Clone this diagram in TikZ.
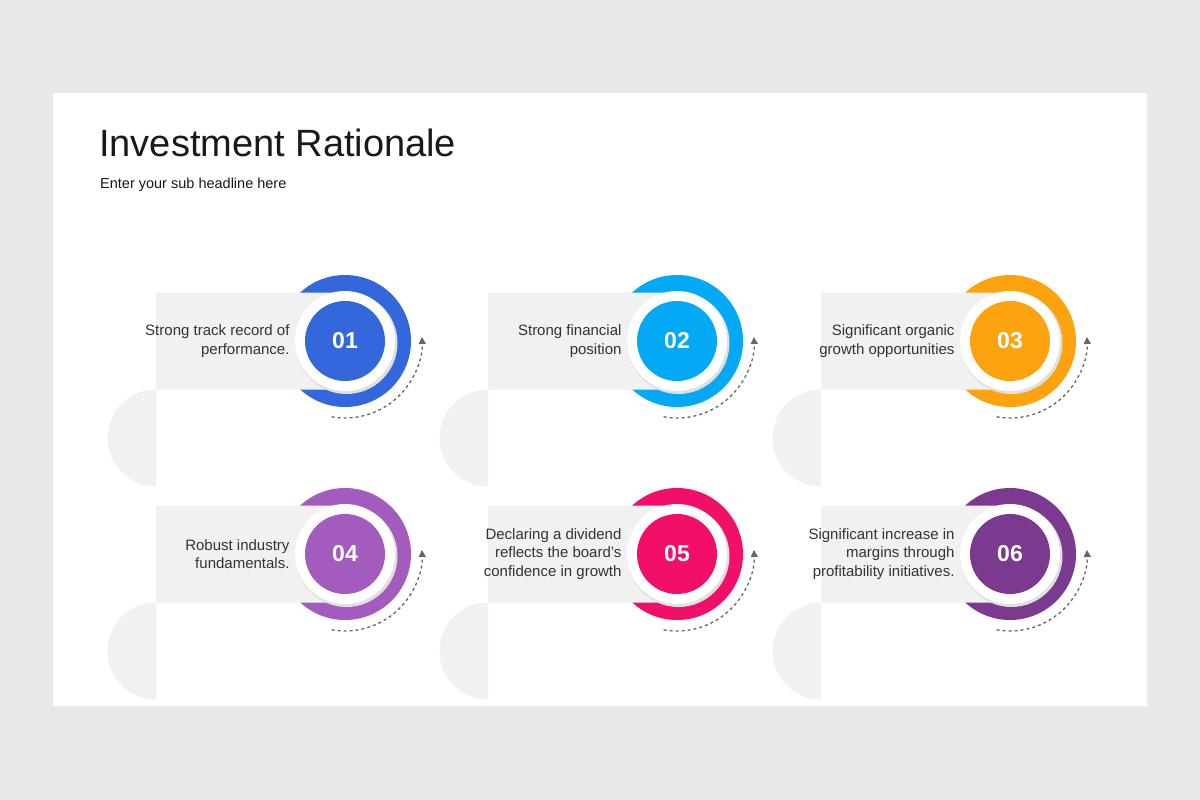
\documentclass[tikz,border=0pt]{standalone}
\usepackage{fontspec}
\setmainfont{Liberation Sans}
\usetikzlibrary{arrows.meta,calc}
\definecolor{bg}{HTML}{E9E7E8}
\definecolor{pill}{HTML}{F1F1F1}
\definecolor{txt}{HTML}{333333}
\definecolor{cA}{HTML}{3466DC}
\definecolor{cB}{HTML}{03A9F4}
\definecolor{cC}{HTML}{FCA30F}
\definecolor{cD}{HTML}{A35BBE}
\definecolor{cE}{HTML}{F20F6A}
\definecolor{cF}{HTML}{7B3A8F}
\tikzset{
  lbl/.style={align=right,anchor=east,text=txt,font=\fontsize{15}{18.5}\selectfont},
  num/.style={text=white,font=\fontsize{23}{26}\selectfont\bfseries},
  arc/.style={dashed,gray!80!black,line width=1.3pt,-{Triangle[length=7pt,width=7pt]}}
}
\newcommand{\stepitem}[5]{%
  \fill[#3] (#1,#2) circle[radius=66];
  \fill[pill] (#1-189,#2-48.5) -- (#1,#2-48.5) -- (#1,#2+48.5) -- (#1-189,#2+48.5) arc[start angle=270,end angle=90,radius=48.5] -- cycle;
  \fill[black!12] (#1+1.5,#2+2) circle[radius=51];
  \fill[white] (#1,#2) circle[radius=50];
  \node[circle,fill=#3,minimum size=80,inner sep=0,num] (n#4) at (#1,#2) {#4};
  \node[lbl] (t#4) at (#1-52,#2) {#5};
  \coordinate (s#4) at ($(#1,#2)+(100:77)$);
  \draw[arc] (s#4) arc[start angle=100,end angle=-3,radius=77];
}
\begin{document}
\begin{tikzpicture}[x=1pt,y=-1pt]
\fill[bg] (0,0) rectangle (1200,800);
\fill[black!8] (55,96) rectangle (1149,709);
\node[draw=none,fill=white,minimum width=1094,minimum height=613,inner sep=0] (card) at (600,399.5) {};
\node[anchor=base west,inner sep=0,text=black!90,font=\fontsize{38}{40}\selectfont] (title) at (99,156) {Investment Rationale};
\node[anchor=base west,inner sep=0,text=black!90,font=\fontsize{14.5}{16}\selectfont] (sub) at (100,188) {Enter your sub headline here};
\stepitem{345}{341}{cA}{01}{Strong track record of\\performance.}
\stepitem{677}{341}{cB}{02}{Strong financial\\position}
\stepitem{1010}{341}{cC}{03}{Significant organic\\growth opportunities}
\stepitem{345}{554}{cD}{04}{Robust industry\\fundamentals.}
\stepitem{677}{554}{cE}{05}{Declaring a dividend\\reflects the board's\\confidence in growth}
\stepitem{1010}{554}{cF}{06}{Significant increase in\\margins through\\profitability initiatives.}
\end{tikzpicture}
\end{document}
